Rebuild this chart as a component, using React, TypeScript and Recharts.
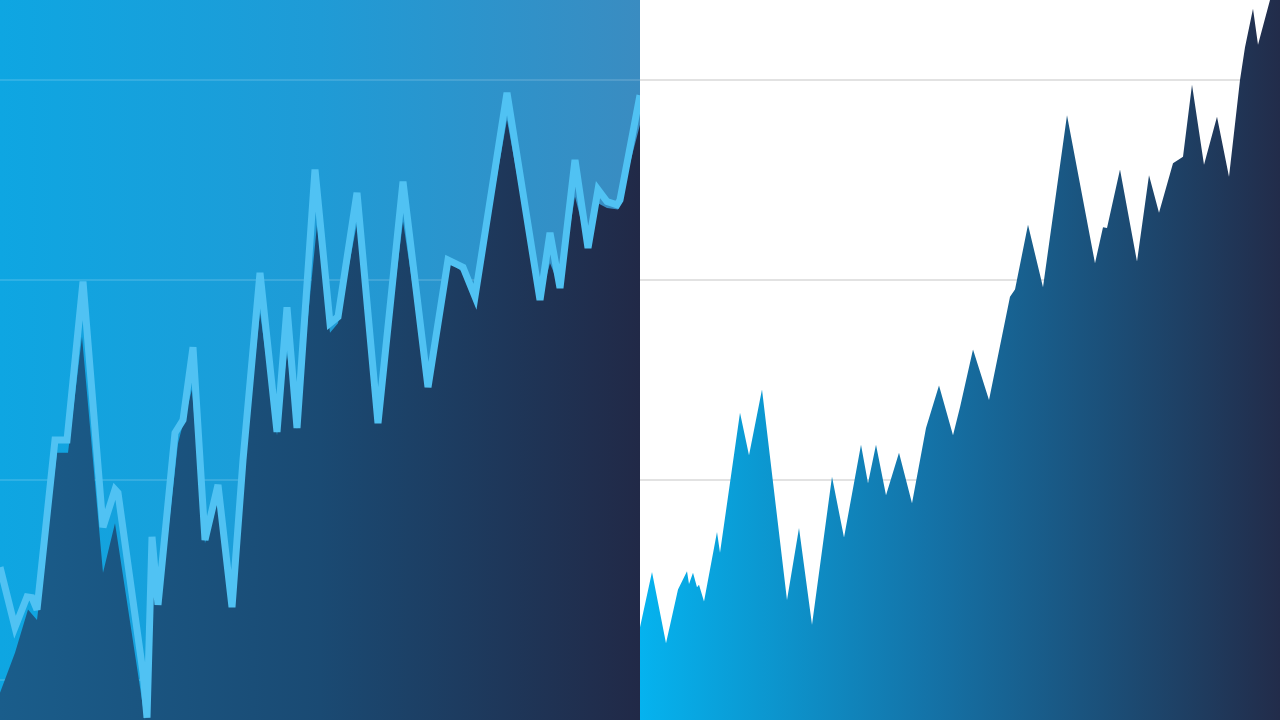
import React from "react";
import { ComposedChart, Area, Line, XAxis, YAxis, CartesianGrid } from "recharts";

// values, y scale 0..90, x scale 0..640 per panel
const gridTicks = [5, 30, 55, 80];

const leftLineX = [0, 15, 27, 32, 37, 55, 67, 83, 103, 115, 118, 143, 147, 152, 158, 175, 183, 193, 205, 218, 232, 243, 260, 277, 287, 297, 315, 330, 338, 357, 378, 403, 428, 448, 463, 475, 507, 540, 550, 560, 575, 588, 598, 607, 617, 620, 640];
const leftLineY = [19.1, 11.6, 15.4, 15.3, 13.8, 35, 35, 54.8, 24.1, 28.8, 28.4, 5.9, 0.3, 22.9, 14.4, 35.9, 37.5, 46.6, 22.5, 29.4, 14.1, 32.5, 55.9, 36, 51.6, 36.5, 68.8, 49.6, 50.4, 65.9, 37.1, 67.3, 41.6, 57.5, 56.6, 52.9, 78.4, 52.5, 60.9, 54, 70, 59, 66.3, 64.8, 64.4, 65, 78.1];

const leftAreaX = [0, 15, 28, 37, 57, 68, 82, 103, 115, 145, 152, 160, 178, 192, 205, 220, 232, 243, 260, 277, 287, 297, 317, 330, 338, 357, 378, 403, 428, 450, 463, 475, 507, 540, 550, 560, 575, 588, 598, 607, 618, 640];
const leftAreaY = [3.4, 8.4, 13.8, 12.5, 33.4, 33.4, 47.9, 18.4, 24.6, 0, 21.3, 14.4, 34.6, 41.3, 22.1, 29.1, 14.1, 31.3, 50.9, 35.6, 45.9, 36.3, 61.9, 48.4, 49.6, 62.1, 37.1, 62.3, 41.6, 57.1, 56, 52.5, 75, 52.5, 57.1, 54, 65.4, 59, 64.6, 64, 63.8, 74.4];

const rightAreaX = [0, 12, 26, 38, 47, 49, 53, 57, 59, 64, 77, 80, 100, 109, 122, 147, 159, 172, 192, 204, 221, 228, 236, 246, 259, 272, 286, 299, 313, 320, 333, 349, 370, 375, 388, 403, 427, 455, 463, 467, 480, 497, 509, 519, 533, 543, 552, 564, 577, 589, 600, 605, 613, 618, 630, 640];
const rightAreaY = [11.6, 18.5, 9.6, 16.3, 18.6, 17, 18.4, 16.6, 16.9, 14.8, 23.5, 20.9, 38.4, 33.1, 41.3, 15, 24, 11.9, 30.4, 22.8, 34.4, 29.6, 34.4, 28.1, 33.4, 27.1, 36.5, 41.8, 35.6, 39.1, 46.3, 40, 52.9, 53.8, 61.9, 54.1, 75.6, 57.1, 61.6, 61.5, 68.8, 57.3, 68.1, 63.4, 69.6, 70.4, 79.4, 69.4, 75.4, 67.9, 80, 84.1, 88.9, 84.4, 90, 92.5];

const zip = (xs: number[], ys: number[]) => xs.map((x, i) => ({ x, v: ys[i] }));

const leftLine = zip(leftLineX, leftLineY);
const leftArea = zip(leftAreaX, leftAreaY);
const rightArea = zip(rightAreaX, rightAreaY);

const W = 640;
const H = 720;

export default function App() {
  return (
    <div style={{ position: "absolute", left: 0, top: 0, width: 1280, height: 720, display: "flex", overflow: "hidden" }}>
      <div style={{ width: W, height: H, background: "linear-gradient(90deg, #0ea6e2 0%, #1f9bd6 50%, #3a8cc1 100%)" }}>
        <ComposedChart width={W} height={H} margin={{ top: 0, right: 0, bottom: 0, left: 0 }}>
          <defs>
            <linearGradient id="leftFill" x1="0" y1="0" x2="1" y2="0">
              <stop offset="0%" stopColor="#1a5d8b" />
              <stop offset="50%" stopColor="#1a4a73" />
              <stop offset="100%" stopColor="#212947" />
            </linearGradient>
          </defs>
          <XAxis type="number" dataKey="x" domain={[0, 640]} hide allowDataOverflow />
          <YAxis type="number" domain={[0, 90]} ticks={gridTicks} hide allowDataOverflow />
          <CartesianGrid vertical={false} horizontalValues={gridTicks} stroke="rgba(255,255,255,0.18)" strokeWidth={1.5} />
          <Area data={leftArea} dataKey="v" type="linear" fill="url(#leftFill)" fillOpacity={1} stroke="none" dot={false} activeDot={false} isAnimationActive={false} />
          <Line data={leftLine} dataKey="v" type="linear" stroke="#50c2f3" strokeWidth={7} dot={false} activeDot={false} isAnimationActive={false} />
        </ComposedChart>
      </div>
      <div style={{ width: W, height: H, background: "#ffffff" }}>
        <ComposedChart width={W} height={H} margin={{ top: 0, right: 0, bottom: 0, left: 0 }}>
          <defs>
            <linearGradient id="rightFill" x1="0" y1="0" x2="1" y2="0">
              <stop offset="0%" stopColor="#05b3ef" />
              <stop offset="45%" stopColor="#1473a8" />
              <stop offset="100%" stopColor="#222c4a" />
            </linearGradient>
          </defs>
          <XAxis type="number" dataKey="x" domain={[0, 640]} hide allowDataOverflow />
          <YAxis type="number" domain={[0, 90]} ticks={gridTicks} hide allowDataOverflow />
          <CartesianGrid vertical={false} horizontalValues={gridTicks} stroke="#d9d9d9" strokeWidth={1.5} />
          <Area data={rightArea} dataKey="v" type="linear" fill="url(#rightFill)" fillOpacity={1} stroke="none" dot={false} activeDot={false} isAnimationActive={false} />
        </ComposedChart>
      </div>
    </div>
  );
}
